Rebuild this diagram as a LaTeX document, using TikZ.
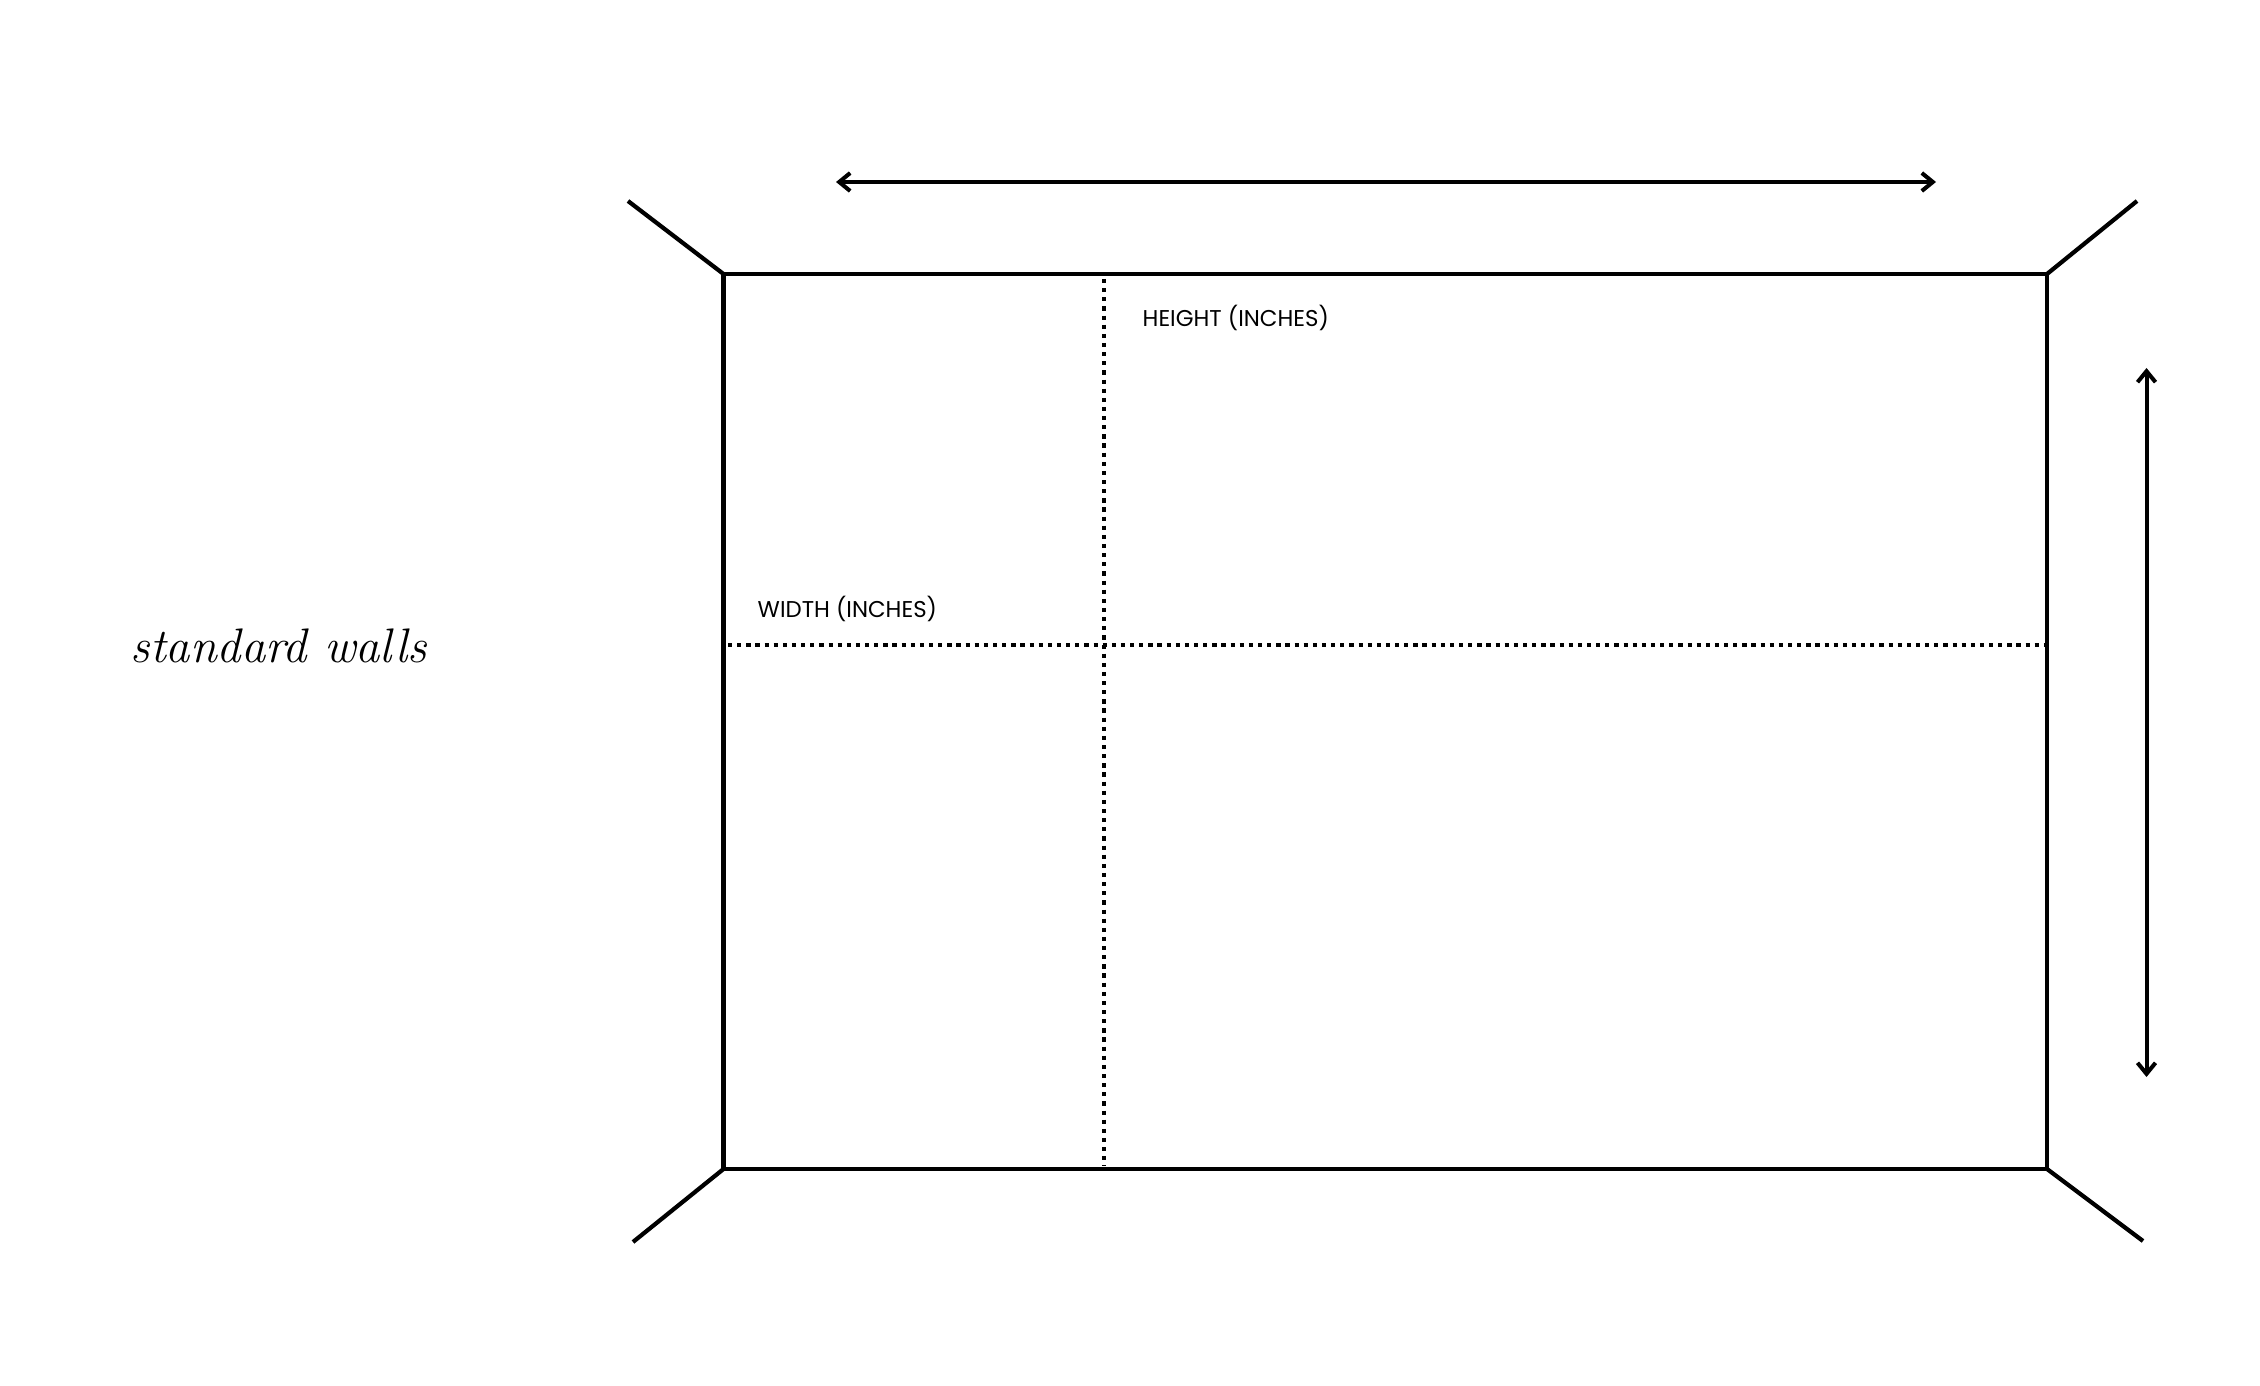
\documentclass[tikz,border=0pt]{standalone}
\usepackage{fontspec}
\newfontfamily\labelfont{Poppins}
\usetikzlibrary{arrows.meta}
\tikzset{
    wall/.style={line width=1.2pt},
    guide/.style={line width=1.3pt, dash pattern=on 1.2pt off 1.4pt},
    measure/.style={line width=1.15pt, {Straight Barb[length=1.1mm,width=1.8mm]}-{Straight Barb[length=1.1mm,width=1.8mm]}},
    tag/.style={anchor=base west, inner sep=0pt, font=\labelfont\fontsize{6.5}{8}\selectfont},
}
\begin{document}
\begin{tikzpicture}[x=1cm, y=-1cm]
                \useasboundingbox (0,0) rectangle (22.6,13.86) ;
                % wall corners
                \coordinate (tl) at (7.235,2.74) ;
                \coordinate (tr) at (20.47,2.74) ;
                \coordinate (bl) at (7.235,11.69) ;
                \coordinate (br) at (20.47,11.69) ;
                \coordinate (tlout) at (6.28,2.01) ;
                \coordinate (trout) at (21.37,2.01) ;
                \coordinate (blout) at (6.33,12.42) ;
                \coordinate (brout) at (21.43,12.41) ;
                \draw[wall] (tl) rectangle (br) ;
                \draw[wall] (tl) -- (tlout) ;
                \draw[wall] (tr) -- (trout) ;
                \draw[wall] (bl) -- (blout) ;
                \draw[wall] (br) -- (brout) ;
                % guides
                \coordinate (vtop) at (11.04,2.79) ;
                \coordinate (vbot) at (11.04,11.66) ;
                \coordinate (hleft) at (7.28,6.45) ;
                \coordinate (hright) at (20.44,6.45) ;
                \draw[guide] (vtop) -- (vbot) ;
                \draw[guide] (hleft) -- (hright) ;
                % arrows
                \coordinate (aleft) at (8.36,1.82) ;
                \coordinate (aright) at (19.36,1.82) ;
                \coordinate (aup) at (21.465,3.68) ;
                \coordinate (adown) at (21.465,10.77) ;
                \draw[measure] (aleft) -- (aright) ;
                \draw[measure] (aup) -- (adown) ;
                % labels
                \node[tag] (width) at (7.57,6.17) {WIDTH (INCHES)} ;
                \node[tag] (height) at (11.42,3.27) {HEIGHT (INCHES)} ;
                \node[anchor=base west, inner sep=0pt, font=\itshape\fontsize{13.8}{16}\selectfont] (title) at (1.30,6.62) {standard walls} ;
            \end{tikzpicture}
\end{document}
